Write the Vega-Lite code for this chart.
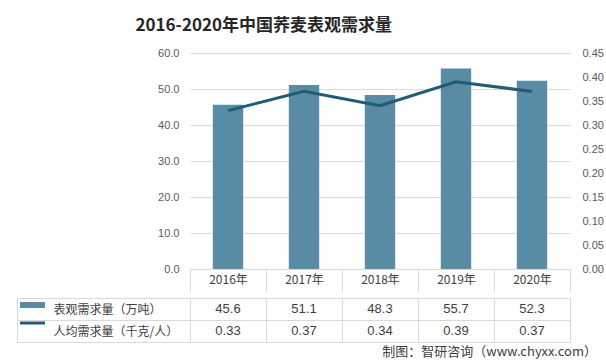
{
  "$schema": "https://vega.github.io/schema/vega-lite/v6.json",
  "padding": {"left": 16, "top": 17, "right": 5, "bottom": 5},
  "background": "white",
  "title": {"text": "2016-2020年中国荞麦表观需求量", "anchor": "start", "frame": "bounds", "dx": 119, "fontSize": 17, "font": "Noto Sans CJK SC", "fontWeight": "bold", "color": "#262626", "offset": 12},
  "datasets": {
    "main": [
      {"year": "2016年", "demand": 45.6, "perCapita": 0.33},
      {"year": "2017年", "demand": 51.1, "perCapita": 0.37},
      {"year": "2018年", "demand": 48.3, "perCapita": 0.34},
      {"year": "2019年", "demand": 55.7, "perCapita": 0.39},
      {"year": "2020年", "demand": 52.3, "perCapita": 0.37}
    ],
    "table": [
      {"year": "2016年", "series": "表观需求量（万吨）", "value": "45.6"},
      {"year": "2017年", "series": "表观需求量（万吨）", "value": "51.1"},
      {"year": "2018年", "series": "表观需求量（万吨）", "value": "48.3"},
      {"year": "2019年", "series": "表观需求量（万吨）", "value": "55.7"},
      {"year": "2020年", "series": "表观需求量（万吨）", "value": "52.3"},
      {"year": "2016年", "series": "人均需求量（千克/人）", "value": "0.33"},
      {"year": "2017年", "series": "人均需求量（千克/人）", "value": "0.37"},
      {"year": "2018年", "series": "人均需求量（千克/人）", "value": "0.34"},
      {"year": "2019年", "series": "人均需求量（千克/人）", "value": "0.39"},
      {"year": "2020年", "series": "人均需求量（千克/人）", "value": "0.37"}
    ]
  },
  "spacing": 0,
  "vconcat": [
    {
      "width": 380,
      "height": 216,
      "data": {"name": "main"},
      "layer": [
        {
          "mark": {"type": "bar", "color": "#5a8ba5", "width": {"band": 0.4}},
          "encoding": {
            "x": {"field": "year", "type": "nominal", "sort": null,
              "scale": {"paddingInner": 0, "paddingOuter": 0},
              "axis": {"title": null, "labelAngle": 0, "domainColor": "#d9d9d9", "tickColor": "#d9d9d9", "tickBand": "extent", "tickSize": 22, "labelPadding": -17, "labelFontSize": 12, "labelColor": "#404040", "grid": false, "labelFont": "Noto Sans CJK SC"}},
            "y": {"field": "demand", "type": "quantitative",
              "scale": {"domain": [0, 60], "nice": false},
              "axis": {"title": null, "values": [0, 10, 20, 30, 40, 50, 60], "format": ".1f", "grid": true, "gridColor": "#d9d9d9", "domain": false, "ticks": false, "labelPadding": 11, "labelFontSize": 11, "labelColor": "#595959", "minExtent": 173, "labelFont": "Liberation Sans"}}
          }
        },
        {
          "mark": {"type": "line", "color": "#1f5c7a", "strokeWidth": 3},
          "encoding": {
            "x": {"field": "year", "type": "nominal", "sort": null},
            "y": {"field": "perCapita", "type": "quantitative",
              "scale": {"domain": [0, 0.45], "nice": false},
              "axis": {"orient": "right", "title": null, "values": [0, 0.05, 0.1, 0.15, 0.2, 0.25, 0.3, 0.35, 0.4, 0.45], "format": ".2f", "grid": false, "domain": false, "ticks": false, "labelPadding": 12, "labelFontSize": 11, "labelColor": "#595959", "labelFont": "Liberation Sans"}}
          }
        }
      ],
      "resolve": {"scale": {"y": "independent"}}
    },
    {
      "width": 380,
      "height": 44,
      "data": {"name": "table"},
      "title": {"text": "制图：智研咨询（www.chyxx.com）", "orient": "bottom", "anchor": "end", "frame": "group", "dx": 27, "offset": 3, "fontSize": 13, "fontWeight": "normal", "color": "#404040", "font": "Noto Sans CJK SC"},
      "layer": [
        {
          "mark": {"type": "text", "fontSize": 13, "color": "#404040", "font": "Liberation Sans"},
          "encoding": {
            "x": {"field": "year", "type": "nominal", "sort": null,
              "scale": {"paddingInner": 0, "paddingOuter": 0},
              "axis": {"title": null, "labels": false, "ticks": false, "domain": false, "grid": true, "tickBand": "extent", "gridColor": "#d9d9d9"}},
            "y": {"field": "series", "type": "nominal", "sort": ["表观需求量（万吨）", "人均需求量（千克/人）"],
              "scale": {"paddingInner": 0, "paddingOuter": 0},
              "axis": {"title": null, "offset": 173, "domain": true, "domainColor": "#d9d9d9", "ticks": true, "tickBand": "extent", "tickSize": -173, "tickColor": "#d9d9d9", "grid": true, "gridColor": "#d9d9d9", "labelAlign": "left", "labelPadding": 137, "labelFontSize": 12, "labelColor": "#404040", "labelLimit": 0, "labelFont": "Noto Sans CJK SC"}},
            "text": {"field": "value"}
          }
        },
        {
          "mark": {"type": "point", "filled": true, "opacity": 0},
          "encoding": {
            "x": {"field": "year", "type": "nominal", "sort": null},
            "y": {"field": "series", "type": "nominal", "sort": ["表观需求量（万吨）", "人均需求量（千克/人）"]},
            "color": {"field": "series", "type": "nominal",
              "scale": {"domain": ["表观需求量（万吨）", "人均需求量（千克/人）"], "range": ["#5a8ba5", "#1f5c7a"]},
              "legend": {"title": null, "orient": "none", "legendX": -170, "legendY": 239.5, "direction": "vertical", "labelExpr": "''", "symbolOpacity": 1, "symbolSize": 625, "symbolStrokeWidth": 0, "rowPadding": 0, "padding": 0}},
            "shape": {"field": "series", "type": "nominal",
              "scale": {"domain": ["表观需求量（万吨）", "人均需求量（千克/人）"], "range": ["M-1,-0.24H1V0.24H-1Z", "M-1,-0.12H1V0.12H-1Z"]},
              "legend": {"title": null, "orient": "none", "legendX": -170, "legendY": 239.5, "direction": "vertical", "labelExpr": "''", "symbolOpacity": 1, "symbolSize": 625, "symbolStrokeWidth": 0, "rowPadding": 0, "padding": 0}}
          }
        }
      ]
    }
  ],
  "config": {"view": {"stroke": null}, "font": "Noto Sans CJK SC"}
}
